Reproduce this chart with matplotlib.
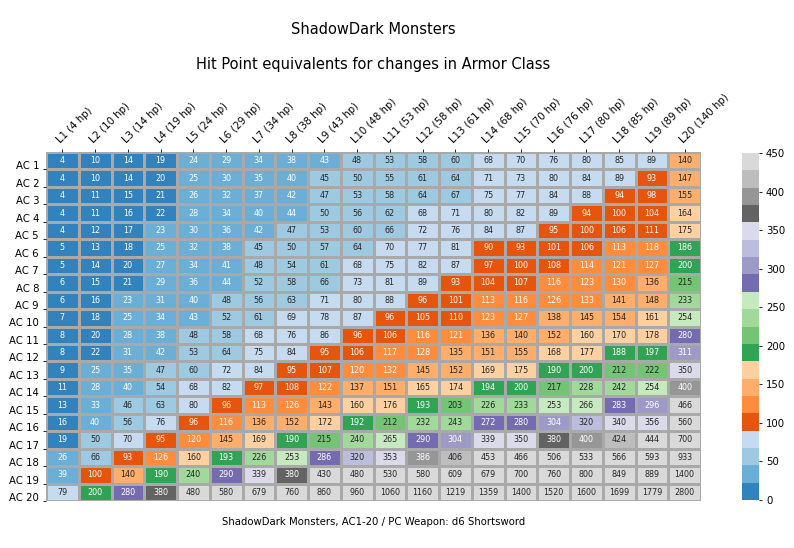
import numpy as np
import seaborn as sns
from matplotlib import pyplot as plt

levels = ["L1 (4 hp)", "L2 (10 hp)", "L3 (14 hp)", "L4 (19 hp)", "L5 (24 hp)",
          "L6 (29 hp)", "L7 (34 hp)", "L8 (38 hp)", "L9 (43 hp)", "L10 (48 hp)",
          "L11 (53 hp)", "L12 (58 hp)", "L13 (61 hp)", "L14 (68 hp)", "L15 (70 hp)",
          "L16 (76 hp)", "L17 (80 hp)", "L18 (85 hp)", "L19 (89 hp)", "L20 (140 hp)"]
armor_classes = [f"AC {i}" for i in range(1, 21)]

# hit point equivalents, one row per AC, one column per level
hp = np.array([
    [4, 10, 14, 19, 24, 29, 34, 38, 43, 48, 53, 58, 60, 68, 70, 76, 80, 85, 89, 140],
    [4, 10, 14, 20, 25, 30, 35, 40, 45, 50, 55, 61, 64, 71, 73, 80, 84, 89, 93, 147],
    [4, 11, 15, 21, 26, 32, 37, 42, 47, 53, 58, 64, 67, 75, 77, 84, 88, 94, 98, 155],
    [4, 11, 16, 22, 28, 34, 40, 44, 50, 56, 62, 68, 71, 80, 82, 89, 94, 100, 104, 164],
    [4, 12, 17, 23, 30, 36, 42, 47, 53, 60, 66, 72, 76, 84, 87, 95, 100, 106, 111, 175],
    [5, 13, 18, 25, 32, 38, 45, 50, 57, 64, 70, 77, 81, 90, 93, 101, 106, 113, 118, 186],
    [5, 14, 20, 27, 34, 41, 48, 54, 61, 68, 75, 82, 87, 97, 100, 108, 114, 121, 127, 200],
    [6, 15, 21, 29, 36, 44, 52, 58, 66, 73, 81, 89, 93, 104, 107, 116, 123, 130, 136, 215],
    [6, 16, 23, 31, 40, 48, 56, 63, 71, 80, 88, 96, 101, 113, 116, 126, 133, 141, 148, 233],
    [7, 18, 25, 34, 43, 52, 61, 69, 78, 87, 96, 105, 110, 123, 127, 138, 145, 154, 161, 254],
    [8, 20, 28, 38, 48, 58, 68, 76, 86, 96, 106, 116, 121, 136, 140, 152, 160, 170, 178, 280],
    [8, 22, 31, 42, 53, 64, 75, 84, 95, 106, 117, 128, 135, 151, 155, 168, 177, 188, 197, 311],
    [9, 25, 35, 47, 60, 72, 84, 95, 107, 120, 132, 145, 152, 169, 175, 190, 200, 212, 222, 350],
    [11, 28, 40, 54, 68, 82, 97, 108, 122, 137, 151, 165, 174, 194, 200, 217, 228, 242, 254, 400],
    [13, 33, 46, 63, 80, 96, 113, 126, 143, 160, 176, 193, 203, 226, 233, 253, 266, 283, 296, 466],
    [16, 40, 56, 76, 96, 116, 136, 152, 172, 192, 212, 232, 243, 272, 280, 304, 320, 340, 356, 560],
    [19, 50, 70, 95, 120, 145, 169, 190, 215, 240, 265, 290, 304, 339, 350, 380, 400, 424, 444, 700],
    [26, 66, 93, 126, 160, 193, 226, 253, 286, 320, 353, 386, 406, 453, 466, 506, 533, 566, 593, 933],
    [39, 100, 140, 190, 240, 290, 339, 380, 430, 480, 530, 580, 609, 679, 700, 760, 800, 849, 889, 1400],
    [79, 200, 280, 380, 480, 580, 679, 760, 860, 960, 1060, 1160, 1219, 1359, 1400, 1520, 1600, 1699, 1779, 2800],
])

W, H = 794, 548
fig = plt.figure(figsize=(W / 100, H / 100), dpi=100)
ax = fig.add_axes([46 / W, 1 - 501 / H, 655 / W, 349 / H])
cax = fig.add_axes([742 / W, 1 - 500 / H, 17 / W, 347 / H])

sns.heatmap(hp, ax=ax, cbar_ax=cax, cmap="tab20c", vmin=0, vmax=450,
            annot=True, fmt="d", annot_kws={"fontsize": 5.8},
            linewidths=0.8, linecolor="darkgray")

ax.xaxis.tick_top()
ax.set_xticks(np.arange(20) + 0.5, levels, rotation=45, ha="left",
              rotation_mode="anchor", fontsize=7.3)
ax.set_yticks(np.arange(1, 21), armor_classes, rotation=0, va="baseline",
              fontsize=7.3)
ax.tick_params(length=2.5, width=0.6, pad=2.5)

ax.text(0.5, 1.3496, "ShadowDark Monsters", transform=ax.transAxes,
        ha="center", va="center", fontsize=10.5)
ax.text(0.5, 1.2521, "Hit Point equivalents for changes in Armor Class",
        transform=ax.transAxes, ha="center", va="center", fontsize=10.5)

ax.set_xlabel("ShadowDark Monsters, AC1-20 / PC Weapon: d6 Shortsword", fontsize=7.3)
ax.xaxis.set_label_position("bottom")
ax.xaxis.set_label_coords(0.5, -0.046)

cax.set_yticks(np.arange(0, 451, 50))
cax.tick_params(labelsize=7.3, length=2.5, width=0.6, pad=2.5)

fig.savefig("out.png", dpi=100)
